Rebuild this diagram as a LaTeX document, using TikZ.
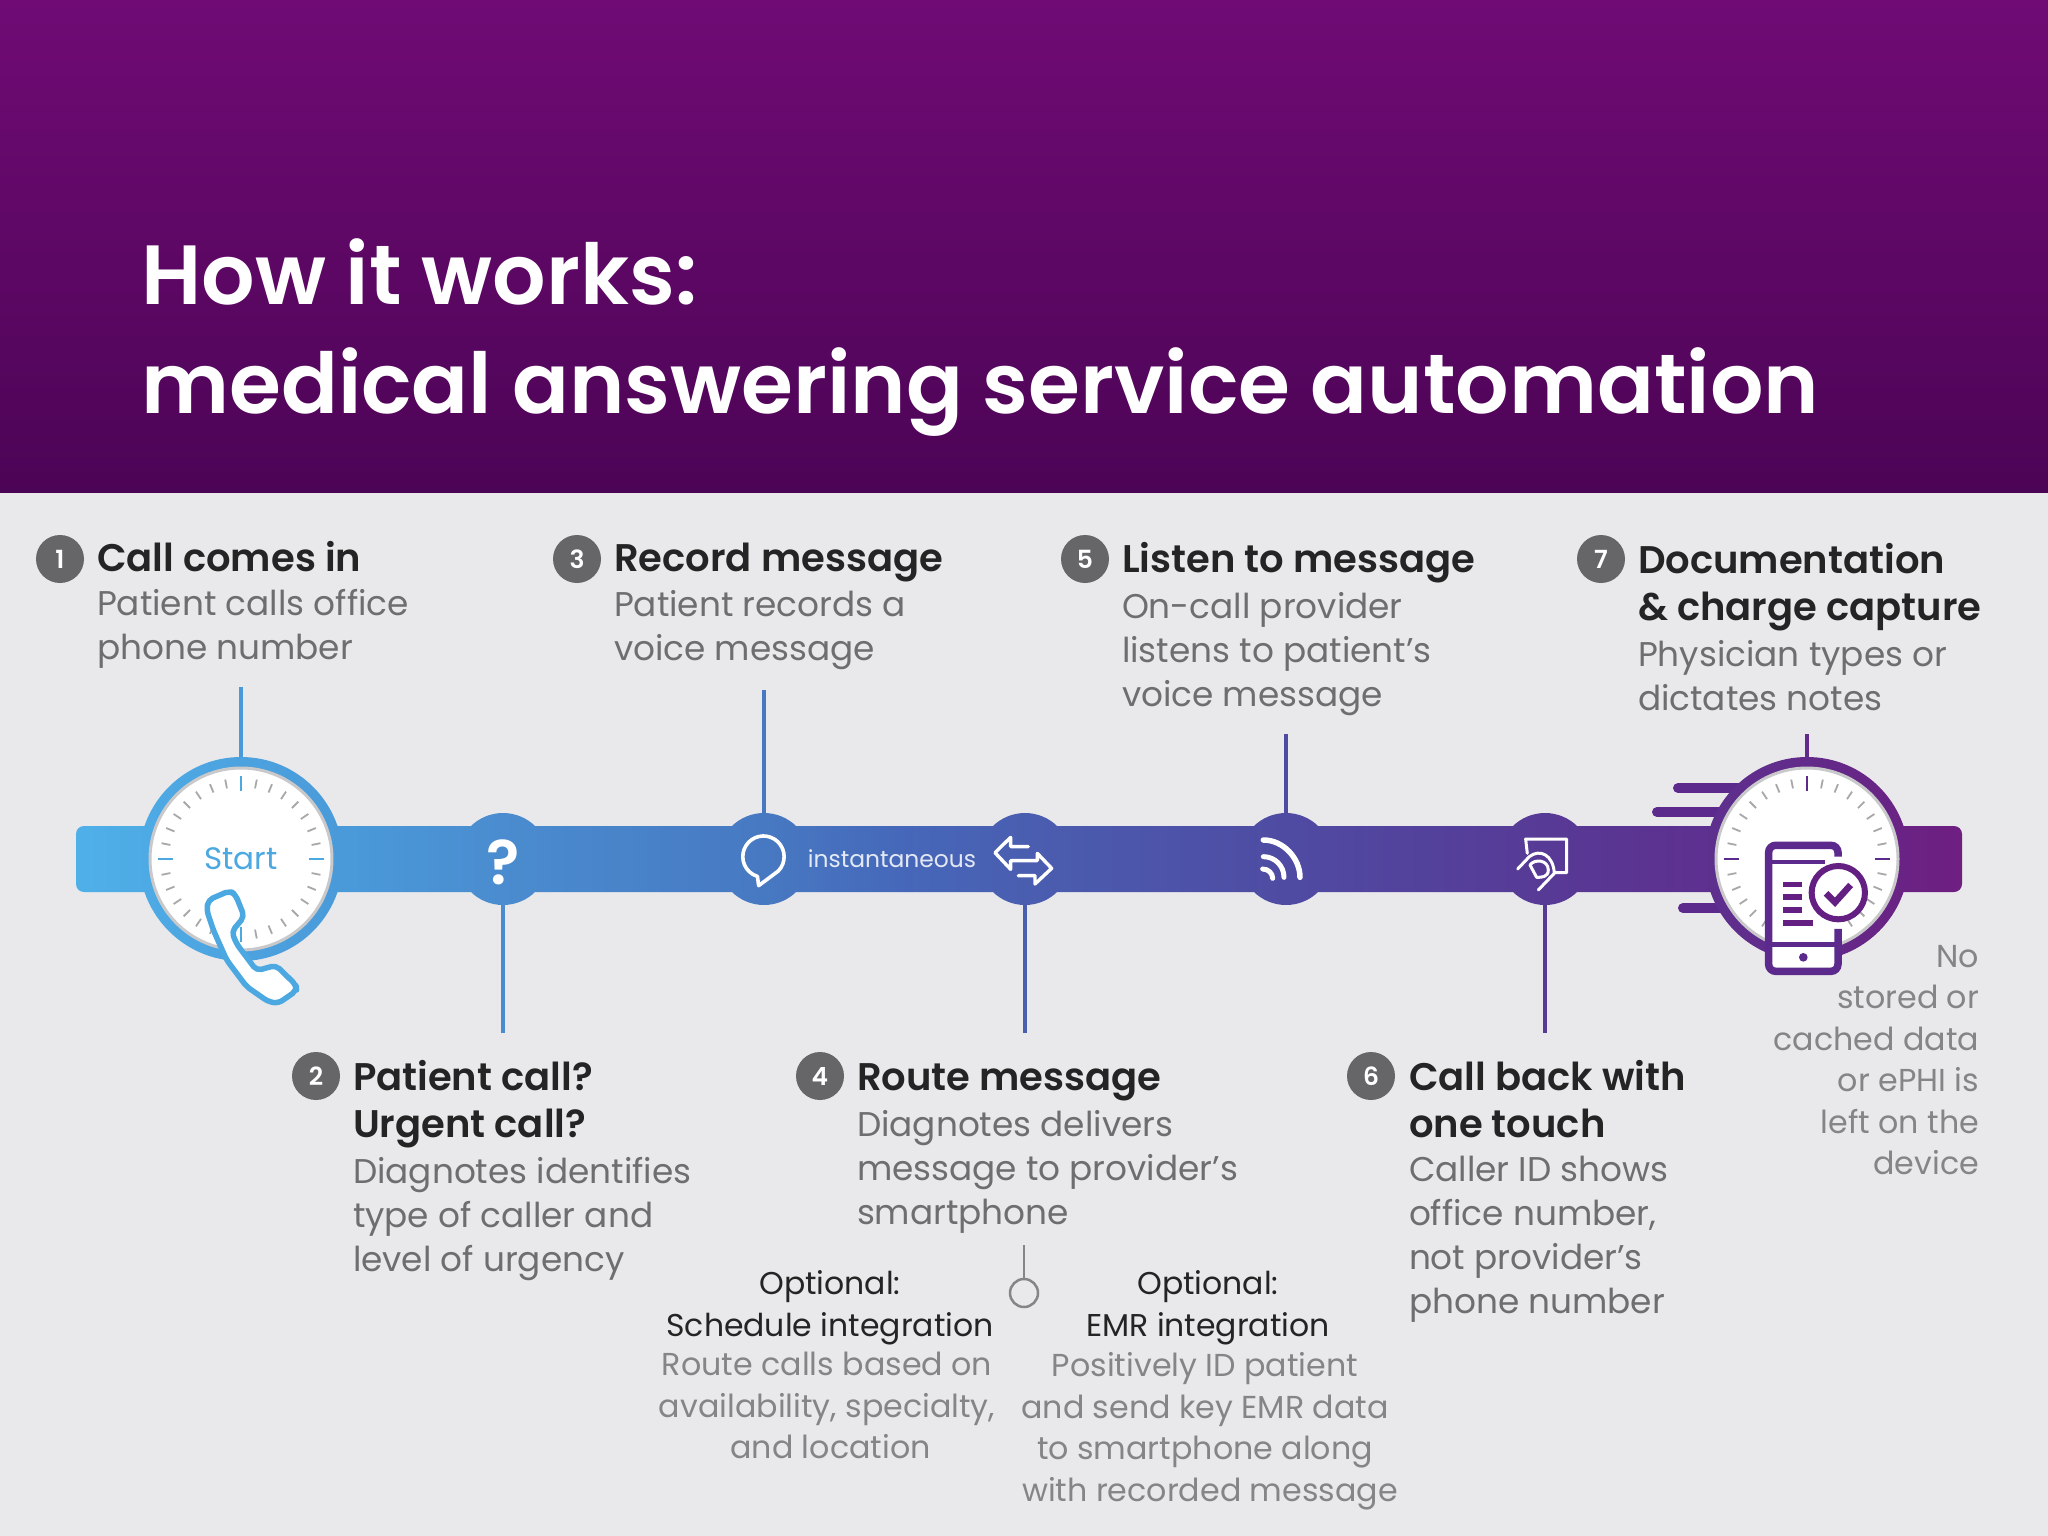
\documentclass[tikz,border=0pt]{standalone}
\usepackage{fontspec}
\setmainfont{Poppins}[BoldFont={Poppins SemiBold}]
\usetikzlibrary{positioning}

\definecolor{pagegray}{HTML}{E9E9EB}
\definecolor{headtop}{HTML}{700B75}
\definecolor{headbot}{HTML}{4C0456}
\definecolor{inktext}{HTML}{242424}
\definecolor{desctext}{HTML}{6E6E70}
\definecolor{softtext}{HTML}{858587}
\definecolor{badgegray}{HTML}{666668}
\definecolor{rimgray}{HTML}{C9C9CB}
\definecolor{tickgray}{HTML}{A8A8AA}
\definecolor{startblue}{HTML}{4CA8E0}
\definecolor{endpurple}{HTML}{5C2A8C}
\definecolor{endplum}{HTML}{641F82}
\definecolor{barA}{HTML}{4FB0E8}
\definecolor{barB}{HTML}{4A9AD9}
\definecolor{barC}{HTML}{4A8CCF}
\definecolor{barD}{HTML}{4779C2}
\definecolor{barE}{HTML}{4668BA}
\definecolor{barF}{HTML}{4A5EB0}
\definecolor{barG}{HTML}{4F4BA3}
\definecolor{barH}{HTML}{573A96}
\definecolor{barI}{HTML}{622A8A}
\definecolor{barJ}{HTML}{6E1F80}

\pgfdeclarehorizontalshading{barshade}{100bp}{color(0bp)=(barA); color(25bp)=(barA);
  color(32bp)=(barB); color(36.3bp)=(barC); color(43.2bp)=(barD); color(46.8bp)=(barE);
  color(50.1bp)=(barF); color(57bp)=(barG); color(63.9bp)=(barH); color(70.8bp)=(barI);
  color(75bp)=(barJ); color(100bp)=(barJ)}

\tikzstyle{hub} = [circle, inner sep=0, outer sep=0, minimum size=92pt]
\tikzstyle{dial} = [circle, inner sep=0, outer sep=0, minimum size=204pt]
\tikzstyle{dialface} = [circle, inner sep=0, minimum size=182pt, fill=white, draw=rimgray, line width=3pt]
\tikzstyle{stem} = [line width=3.6pt]
\tikzstyle{icon} = [draw=white, line width=3.6pt, line join=round, line cap=round]
\tikzstyle{badge} = [circle, inner sep=0, outer sep=0, minimum size=48pt, fill=badgegray, text=white,
   font=\bfseries\fontsize{25}{25}\selectfont]
\tikzstyle{headtext} = [inner sep=0, outer sep=0, align=left, text=inktext,
   font=\bfseries\fontsize{38.5}{47}\selectfont,
   execute at begin node={\rule{0pt}{30pt}}, execute at end node={\rule[-9pt]{0pt}{9pt}}]
\tikzstyle{desctext} = [inner sep=0, outer sep=0, align=left, text=desctext,
   font=\fontsize{34.3}{44}\selectfont,
   execute at begin node={\rule{0pt}{28pt}}, execute at end node={\rule[-9pt]{0pt}{9pt}}]
\tikzstyle{opthead} = [inner sep=0, outer sep=0, align=center, text=inktext,
   font=\fontsize{31.5}{41.5}\selectfont,
   execute at begin node={\rule{0pt}{26pt}}, execute at end node={\rule[-8pt]{0pt}{8pt}}]
\tikzstyle{optdesc} = [inner sep=0, outer sep=0, align=center, text=softtext,
   font=\fontsize{31.7}{41.5}\selectfont,
   execute at begin node={\rule{0pt}{26pt}}, execute at end node={\rule[-8pt]{0pt}{8pt}}]

\begin{document}
\begin{tikzpicture}[x=1pt, y=-1pt, node distance=169pt]
  \useasboundingbox (0,0) rectangle (2048,1536);
  \fill[pagegray] (0,0) rectangle (2048,1536);
  \shade[top color=headtop, bottom color=headbot] (0,0) rectangle (2048,492);

  \node[inner sep=0, anchor=north west, align=left, text=white,
        font=\bfseries\fontsize{84}{109}\selectfont] (title) at (141,238)
    {How it works:\\medical answering service automation};

  % the stops along the bar
  \node[dial] (dial1) at (241,859) {};
  \node[hub, right=114pt of dial1] (hub2) {};
  \node[hub, right=of hub2] (hub3) {};
  \node[hub, right=of hub3] (hub4) {};
  \node[hub, right=of hub4] (hub5) {};
  \node[hub, right=167pt of hub5] (hub6) {};
  \node[dial, right=114pt of hub6] (dial7) {};

  % free ends of the stems
  \coordinate[above=70pt of dial1.north] (stem1);
  \coordinate[below=128pt of hub2.south] (stem2);
  \coordinate[above=123pt of hub3.north] (stem3);
  \coordinate[below=128pt of hub4.south] (stem4);
  \coordinate[above=79pt of hub5.north] (stem5);
  \coordinate[below=128pt of hub6.south] (stem6);
  \coordinate[above=23pt of dial7.north] (stem7);

  \draw[stem, barB] (stem1) -- (dial1.north);
  \draw[stem, barC] (stem2) -- (hub2.south);
  \draw[stem, barD] (stem3) -- (hub3.north);
  \draw[stem, barF] (stem4) -- (hub4.south);
  \draw[stem, barG] (stem5) -- (hub5.north);
  \draw[stem, barH] (stem6) -- (hub6.south);
  \draw[stem, barI] (stem7) -- (dial7.north);

  % speed lines behind the last dial
  \draw[line width=10pt, line cap=round, endpurple] (1678,788) -- (1760,788);
  \draw[line width=10pt, line cap=round, endpurple] (1657,812) -- (1730,812);
  \draw[line width=10pt, line cap=round, endpurple] (1683,908) -- (1730,908);

  % bar and circles as one shaded path
  \shade[shading=barshade] [rounded corners=8pt] (76,892) rectangle (1962,826)
    [sharp corners]
    (dial1) circle[radius=102] (hub2) circle[radius=46] (hub3) circle[radius=46]
    (hub4) circle[radius=46] (hub5) circle[radius=46] (hub6) circle[radius=46]
    (dial7) circle[radius=102];

  % dial faces
  \node[dialface, text=startblue, font=\fontsize{31}{31}\selectfont] (face1) at (dial1) {Start};
  \node[dialface] (face7) at (dial7) {};
  \foreach \dial/\tickcol in {dial1/startblue, dial7/endpurple} {
    \foreach \a in {11.25,22.5,...,348.75}
      \draw[tickgray, line width=1.8pt] ([shift={(\a:72)}]\dial.center) -- ([shift={(\a:81)}]\dial.center);
    \foreach \a in {90,180,270,360}
      \draw[\tickcol, line width=1.8pt] ([shift={(\a:68)}]\dial.center) -- ([shift={(\a:83)}]\dial.center);
  }

  % handset on the first dial
  \begin{scope}[shift={(60,740)}, x=0.3333pt, y=-0.3333pt]
    \draw[fill=white, draw=startblue, line width=5.5pt, rounded corners=5pt, line join=round]
      (445,480) -- (510,452) -- (527,465) -- (553,530) -- (515,575) -- (530,612) -- (590,692)
      -- (648,676) -- (708,735) -- (710,752) -- (655,790) -- (625,785) -- (560,740)
      -- (500,660) -- (460,570) -- (440,510) -- cycle;
  \end{scope}

  % phone on the last dial
  \begin{scope}[shift={(1640,730)}, x=0.3333pt, y=-0.3333pt]
    \fill[white, rounded corners=6pt] (386,346) rectangle (594,724);
    \draw[endpurple, line width=7.5pt, rounded corners=7pt]
      (594,380) -- (594,346) -- (386,346) -- (386,724) -- (594,724) -- (594,597);
    \draw[endpurple, line width=4pt] (386,397) -- (555,397);
    \draw[endpurple, line width=5pt] (386,645) -- (594,645);
    \fill[endpurple] (490,682) circle[radius=13];
    \fill[endplum] (430,455) rectangle (487,472);
    \fill[endplum] (430,492) rectangle (487,510);
    \fill[endplum] (430,530) rectangle (487,548);
    \fill[endplum] (430,570) rectangle (520,588);
    \draw[fill=white, draw=endplum, line width=6pt] (595,488) circle[radius=80];
    \draw[endplum, line width=6.5pt] (558,490) -- (585,517) -- (632,465);
  \end{scope}

  % icons on the hubs
  \node[text=white, inner sep=0, font=\bfseries\fontsize{62}{62}\selectfont] (qmark) at ([yshift=-3pt]hub2) {?};
  \begin{scope}[shift={(700,790)}, x=0.3333pt, y=-0.3333pt]
    \draw[icon] (235,243) arc[start angle=44, end angle=-253, radius=62] -- (176,287) -- cycle;
    \draw[icon, line width=3.4pt] (985,170) -- (932,170) -- (932,142) -- (885,188) -- (932,238)
      -- (932,212) -- (1012,212) -- (1012,190) -- (1055,235) -- (1005,282) -- (1005,257) -- (955,257);
  \end{scope}
  \begin{scope}[shift={(1220,790)}, x=0.3333pt, y=-0.3333pt]
    \draw[icon, line width=5.5pt] (130,150) .. controls (190,150) and (240,205) .. (240,262);
    \draw[icon, line width=5pt] (130,200) .. controls (165,200) and (192,228) .. (192,262);
    \draw[icon, line width=5pt] (128,237) .. controls (145,237) and (158,250) .. (158,265);
    \draw[icon, line width=3pt] (922,190) -- (917,147) -- (1040,147) -- (1040,248) -- (1005,248);
    \draw[icon, line width=3pt] (893,237) -- (928,200) .. controls (960,175) and (1000,195) .. (1003,250)
      -- (955,300);
    \draw[icon, line width=3pt] (930,225) .. controls (945,205) and (985,210) .. (985,240)
      .. controls (985,262) and (965,262) .. (950,262) -- cycle;
  \end{scope}
  \node[inner sep=0, text=white, opacity=0.85, font=\fontsize{23.4}{23.4}\selectfont] (instant) at (892,859) {instantaneous};

  % numbered steps
  \node[badge] (num1) at (60,559) {1};
  \node[headtext, below right=-18pt and 13pt of num1.east] (head1) {Call comes in};
  \node[desctext, below right=9pt and 0pt of head1.south west] (desc1) {Patient calls office\\phone number};

  \node[badge] (num2) at (316,1076) {2};
  \node[headtext, below right=-15.4pt and 13pt of num2.east] (head2) {Patient call?\\Urgent call?};
  \node[desctext, below right=9pt and 0pt of head2.south west] (desc2) {Diagnotes identifies\\type of caller and\\level of urgency};

  \node[badge] (num3) at (577,559) {3};
  \node[headtext, below right=-18pt and 13pt of num3.east] (head3) {Record message};
  \node[desctext, below right=9pt and 0pt of head3.south west] (desc3) {Patient records a\\voice message};

  \node[badge] (num4) at (820,1076) {4};
  \node[headtext, below right=-15.4pt and 13pt of num4.east] (head4) {Route message};
  \node[desctext, below right=9pt and 0pt of head4.south west] (desc4) {Diagnotes delivers\\message to provider’s\\smartphone};

  \node[badge] (num5) at (1085,559) {5};
  \node[headtext, below right=-16.7pt and 13pt of num5.east] (head5) {Listen to message};
  \node[desctext, below right=9pt and 0pt of head5.south west] (desc5) {On-call provider\\listens to patient’s\\voice message};

  \node[badge] (num6) at (1371,1076) {6};
  \node[headtext, below right=-15.4pt and 14pt of num6.east] (head6) {Call back with\\one touch};
  \node[desctext, below right=9pt and 0pt of head6.south west] (desc6) {Caller ID shows\\office number,\\not provider’s\\phone number};

  \node[badge] (num7) at (1601,559) {7};
  \node[headtext, below right=-15.4pt and 13pt of num7.east] (head7) {Documentation\\\& charge capture};
  \node[desctext, below right=9pt and 0pt of head7.south west] (desc7) {Physician types or\\dictates notes};

  \node[optdesc, anchor=north east, align=right] (nodata) at (1979,945)
    {No\\stored or\\cached data\\or ePHI is\\left on the\\device};

  % optional branch
  \coordinate (stub) at (1024,1245);
  \node[circle, inner sep=0, minimum size=28pt, draw=softtext, line width=2.5pt] (optdot) at (1024,1293) {};
  \draw[softtext, line width=2.5pt] (stub) -- (optdot.north);

  \node[opthead, anchor=north] (optA) at (830,1271) {Optional:\\Schedule integration};
  \node[optdesc, below=7.5pt of optA, xshift=-3pt] (optAtext) {Route calls based on\\availability, specialty,\\\hspace*{7pt}and location};
  \node[opthead, anchor=north] (optB) at (1208,1271) {Optional:\\EMR integration};
  \node[optdesc, below=7.5pt of optB, xshift=-3pt] (optBtext) {Positively ID patient\\and send key EMR data\\to smartphone along\\\hspace*{10pt}with recorded message};
\end{tikzpicture}
\end{document}
